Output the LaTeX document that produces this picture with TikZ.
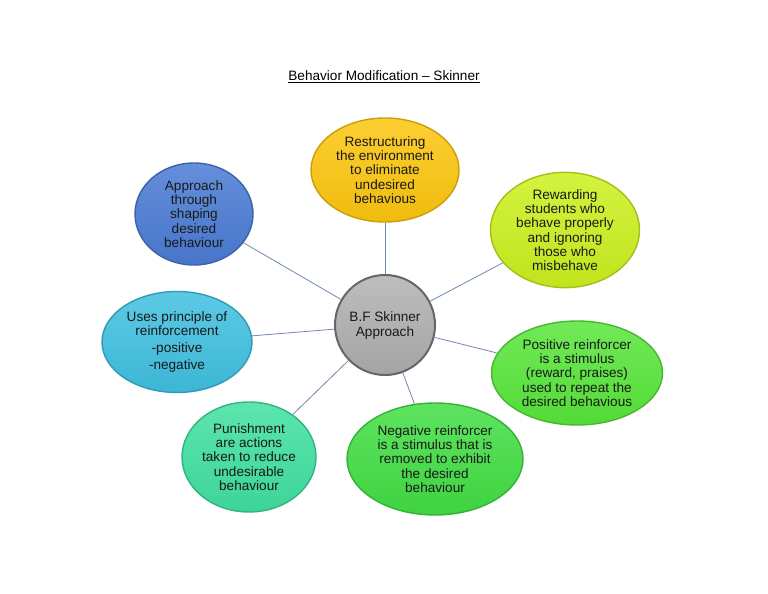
\documentclass[tikz,border=0pt]{standalone}
\usepackage{fontspec}
\setmainfont{Liberation Sans}
\usetikzlibrary{shapes.geometric}
\definecolor{cblue}{HTML}{4A7BD4}
\definecolor{cyellow}{HTML}{FCC60E}
\definecolor{clime}{HTML}{CBF01E}
\definecolor{ccyan}{HTML}{3FC0E0}
\definecolor{cgreenA}{HTML}{58E63A}
\definecolor{cgreenB}{HTML}{42DE44}
\definecolor{cteal}{HTML}{40E0A0}
\definecolor{cgray}{HTML}{ADADAD}
\definecolor{linkc}{HTML}{7088B0}
\tikzset{
  bubble/.style={ellipse, draw=#1!80!black, line width=1.4pt,
    top color=#1!85!white, bottom color=#1!95!black,
    inner sep=0pt, align=center, text=black!90,
    font=\fontsize{13.6}{14.3}\selectfont},
  link/.style={draw=linkc, line width=0.8pt},
}
\begin{document}
\begin{tikzpicture}[x=1pt,y=-1pt]
\useasboundingbox (0,0) rectangle (768,594);
\fill[white] (0,0) rectangle (768,594);
\node[font=\fontsize{13.6}{14}\selectfont] (title) at (384,77) {\underline{Behavior Modification -- Skinner}};
\node[circle, draw=gray!80!black, line width=2pt, top color=cgray!80!white, bottom color=cgray!95!black, minimum size=100pt, inner sep=0pt, align=center, font=\fontsize{13.6}{15}\selectfont, text=black!90] (c) at (385,325) {B.F Skinner\\Approach};
\node[bubble=cyellow, minimum width=148pt, minimum height=104pt] (top) at (385,170) {Restructuring\\the environment\\to eliminate\\undesired\\behavious};
\node[bubble=cblue, minimum width=118pt, minimum height=102pt] (tl) at (194,214) {Approach\\through\\shaping\\desired\\behaviour};
\node[bubble=clime, minimum width=149pt, minimum height=106pt] (tr) at (565,230) {Rewarding\\students who\\behave properly\\and ignoring\\those who\\misbehave};
\node[bubble=ccyan, minimum width=150pt, minimum height=101pt] (l) at (177,342) {Uses principle of\\reinforcement\\[3pt]-positive\\[3pt]-negative};
\node[bubble=cgreenA, minimum width=171pt, minimum height=104pt] (r) at (577,373) {Positive reinforcer\\is a stimulus\\(reward, praises)\\used to repeat the\\desired behavious};
\node[bubble=cgreenB, minimum width=176pt, minimum height=112pt] (br) at (435,459) {Negative reinforcer\\is a stimulus that is\\removed to exhibit\\the desired\\behaviour};
\node[bubble=cteal, minimum width=134pt, minimum height=110pt] (bl) at (249,457) {Punishment\\are actions\\taken to reduce\\undesirable\\behaviour};
\foreach \t in {top,tl,tr,l,r,br,bl} \draw[link] (c) -- (\t);
\end{tikzpicture}
\end{document}
